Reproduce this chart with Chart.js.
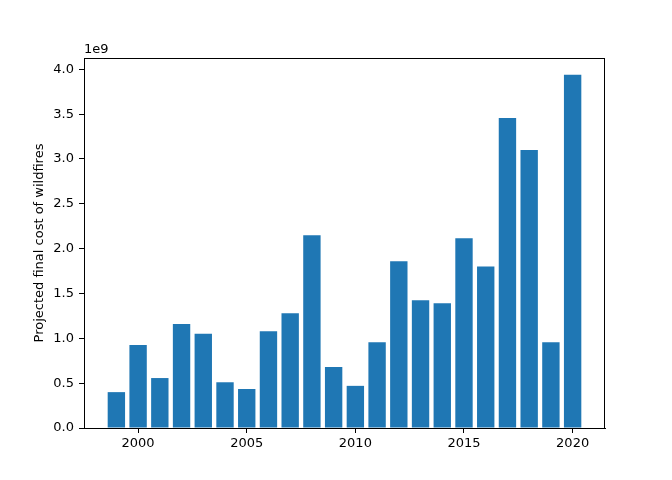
<!DOCTYPE html>
<html>
<head>
<meta charset="utf-8">
<script src="https://cdn.jsdelivr.net/npm/chart.js@4"></script>
<style>
  html, body { margin: 0; padding: 0; background: #fff; }
  canvas { display: block; }
</style>
</head>
<body>
<canvas id="costChart" width="672" height="480"></canvas>
<script>
// Projected final cost of wildfires, in units of 1e9
const years = [1999, 2000, 2001, 2002, 2003, 2004, 2005, 2006, 2007, 2008, 2009,
               2010, 2011, 2012, 2013, 2014, 2015, 2016, 2017, 2018, 2019, 2020];
const costs = [0.40, 0.925, 0.557, 1.16, 1.05, 0.51, 0.435, 1.08, 1.28, 2.15, 0.68,
               0.47, 0.956, 1.86, 1.425, 1.39, 2.117, 1.80, 3.456, 3.10, 0.956, 3.94];
const xTicks = [2000, 2005, 2010, 2015, 2020];
const yTicks = [0, 0.5, 1.0, 1.5, 2.0, 2.5, 3.0, 3.5, 4.0];

const FONT = 'DejaVu Sans';

// black box round the plot + the offset text
const frame = {
  id: 'frame',
  afterDraw(chart) {
    const { ctx, chartArea: a } = chart;
    ctx.save();
    ctx.strokeStyle = '#000';
    ctx.lineWidth = 1;
    ctx.strokeRect(a.left + 0.5, a.top + 0.5, a.right - a.left - 1, a.bottom - a.top);
    ctx.fillStyle = '#000';
    ctx.font = '13px "' + FONT + '"';
    ctx.textAlign = 'left';
    ctx.textBaseline = 'bottom';
    ctx.fillText('1e9', a.left, a.top - 2);
    ctx.restore();
  }
};

new Chart(document.getElementById('costChart').getContext('2d'), {
  type: 'bar',
  data: {
    datasets: [{
      data: years.map((y, i) => ({ x: y, y: costs[i] })),
      backgroundColor: '#1f77b4',
      borderWidth: 0,
      barPercentage: 0.8,
      categoryPercentage: 1.0
    }]
  },
  options: {
    responsive: false,
    animation: false,
    layout: { padding: { top: 58, right: 67, left: 0, bottom: 0 } },
    plugins: { legend: { display: false }, tooltip: { enabled: false } },
    scales: {
      x: {
        type: 'linear',
        offset: false,
        min: 1997.51,
        max: 2021.49,
        afterBuildTicks: s => { s.ticks = xTicks.map(v => ({ value: v })); },
        afterFit: s => { s.height = 52; },
        grid: { offset: false, drawOnChartArea: false, drawTicks: true, tickLength: 5, color: '#000' },
        border: { display: true, color: '#000' },
        ticks: { color: '#000', padding: 3, maxRotation: 0, font: { family: FONT, size: 13 },
                 callback: v => String(v) }
      },
      y: {
        min: 0,
        max: 4.126,
        afterBuildTicks: s => { s.ticks = yTicks.map(v => ({ value: v })); },
        afterFit: s => { s.width = 84; },
        grid: { drawOnChartArea: false, drawTicks: true, tickLength: 5, color: '#000' },
        border: { display: true, color: '#000' },
        ticks: { color: '#000', padding: 5, font: { family: FONT, size: 13 },
                 callback: v => v.toFixed(1) },
        title: {
          display: true,
          text: 'Projected final cost of wildfires',
          color: '#000',
          font: { family: FONT, size: 13 },
          padding: { top: 32, bottom: 0 }
        }
      }
    }
  },
  plugins: [frame]
});
</script>
</body>
</html>
